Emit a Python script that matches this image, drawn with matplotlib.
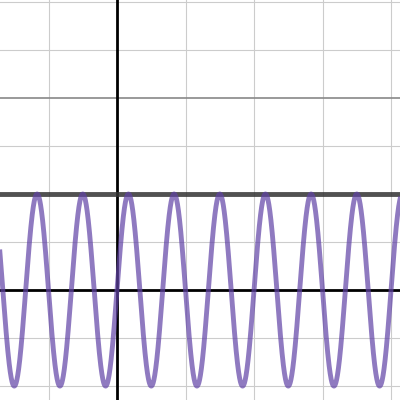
import numpy as np
import matplotlib
matplotlib.use("Agg")
import matplotlib.pyplot as plt

amplitude = 2.0
cycles_per_unit = 1.5
hline_y = 2.0
x_grid = [-1, 1, 2, 3, 4]
y_grid = [-2, -1, 1, 3, 5, 6]
y_major = [4]

fig = plt.figure(figsize=(4, 4), dpi=100)
ax = fig.add_axes([0, 0, 1, 1])
ax.set_xlim(-1.708, 4.131)
ax.set_ylim(-2.29, 6.04)
for gx in x_grid:
    ax.axvline(gx, color="#cccccc", lw=0.8, zorder=0)
for gy in y_grid:
    ax.axhline(gy, color="#cccccc", lw=0.8, zorder=0)
for gy in y_major:
    ax.axhline(gy, color="#888888", lw=1.2, zorder=0)
ax.axhline(0, color="black", lw=2, zorder=1)
ax.axvline(0, color="black", lw=2, zorder=1)
ax.axhline(hline_y, color="#333333", lw=3.5, alpha=0.85, zorder=2)
x = np.linspace(-1.8, 4.2, 3000)
ax.plot(x, amplitude * np.sin(2 * np.pi * cycles_per_unit * x), color="#6042a6", alpha=0.7, lw=3.5, zorder=3)
ax.axis("off")
fig.savefig("out.png", dpi=100)
